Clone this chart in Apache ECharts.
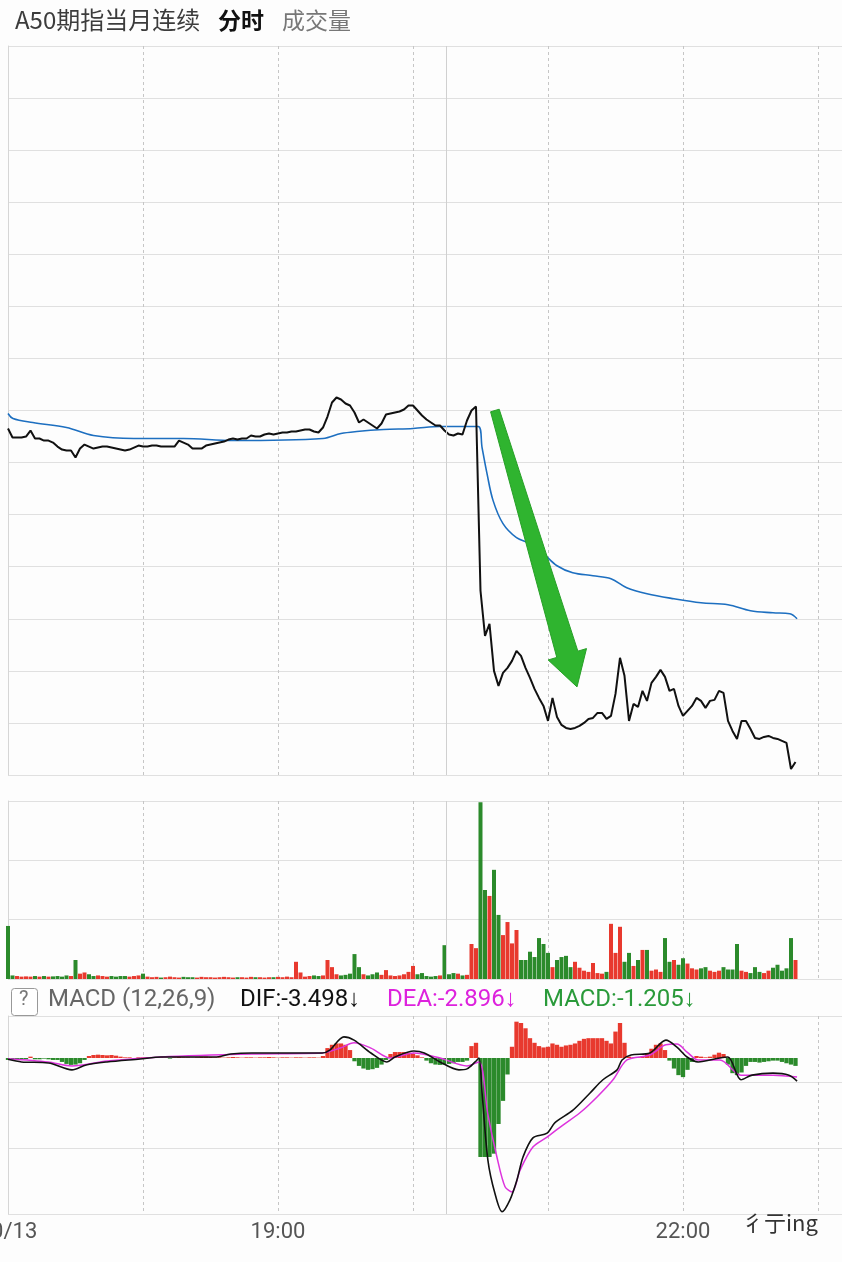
<!DOCTYPE html>
<html><head><meta charset="utf-8">
<script src="https://cdn.jsdelivr.net/npm/echarts@6/dist/echarts.min.js"></script>
<style>html,body{margin:0;padding:0;background:#fff}#c{width:842px;height:1262px}</style>
</head><body><div id="c"></div><script>
// ---- data (minutes after 17:00, 10/13) ----
const STEP = 2;              // minutes between samples
const prevClose = 12090;
const sessionMark = 195;     // solid vertical marker (20:15)
const timeLabels = {0: '10/13', 120: '19:00', 300: '22:00'};

const price = [
12081,12076.5,12076.5,12076.5,12077,12080,12076,12076,12075,12075,
12074,12072,12070.5,12070,12070,12066.5,12071,12073,12072,12071,
12071.5,12072,12072,12071.5,12071,12070.5,12070,12070.5,12071.5,12072.5,
12072,12072,12072.5,12072.5,12072,12072,12072,12072,12075,12074,
12073,12071,12071,12071,12072.5,12073,12073.5,12074,12074.5,12075.5,
12076,12075.5,12076,12076,12077.5,12077,12077,12078,12078.5,12078,
12078.5,12079,12079,12079.5,12079.5,12080,12080.5,12080.5,12079.5,12079,
12081.5,12087,12094,12096.5,12095.5,12093.5,12092.5,12089,12084,12085.5,
12084,12082.5,12081,12083.5,12088,12088.5,12089,12089.5,12090.5,12092.5,
12092.5,12090,12087.5,12085.5,12084,12082.5,12082.5,12080,12078,12077.5,
12078.5,12078,12085,12090,12092,12000,11977.5,11983.5,11960,11952.5,
11959,11961.5,11965,11970,11967.5,11961.5,11956.5,11951,11946.5,11942.5,
11935,11946.5,11937,11933,11931.5,11931,11931.5,11932.5,11934,11936,
11936.5,11939,11939,11936,11937.5,11948.5,11966.5,11957.5,11935,11943.5,
11942,11950,11945,11954,11957,11960.5,11957,11950,11951,11942.5,
11937.5,11940,11942.5,11946.5,11945,11941.5,11945,11945.5,11950,11949,
11935,11930,11926,11935,11935,11931,11926.5,11926,11927,11927.5,
11926.5,11926,11925,11924,11911,11914.5];

const avgLine = [
[0,12088.5],[2.2,12086],[11,12084],[26,12081.5],[38,12077.5],[56,12076],[78,12076],
[100,12075],[140,12076],[148,12078.5],[155,12079.5],[167,12080.5],[180,12081],[192,12082],
[209,12082],[210.7,12071.5],[212.9,12058.5],[215.6,12045],[220,12033.5],[226,12026.5],
[232,12023.5],[238,12018.5],[244,12012.5],[251,12009],[260,12007.5],[268,12006],
[275,12001.5],[284,11998.5],[296,11996],[308,11994],[320,11993],[330,11990],[340,11989],
[347.5,11988.5],[350.7,11986]];

const volume = [
447,30,25,20,22,20,25,20,25,20,
22,25,20,30,25,160,45,55,40,25,
30,25,20,25,20,25,25,20,25,30,
45,20,15,18,12,15,20,15,12,18,
15,15,12,18,15,15,12,15,18,15,
12,15,15,12,18,15,15,12,15,15,
18,15,20,15,145,55,20,25,30,25,
30,160,100,40,30,35,45,210,100,40,
30,40,55,35,75,30,25,30,40,60,
110,40,50,25,20,25,30,285,40,50,
45,30,35,295,260,1490,750,700,920,540,
370,480,300,413,160,160,230,185,345,295,
220,100,160,185,195,100,145,95,70,60,
135,50,45,60,465,220,440,145,220,110,
160,245,245,70,80,60,345,145,160,120,
175,130,90,80,90,100,70,60,70,100,
80,80,295,70,60,50,100,60,50,70,
95,120,70,90,345,160];

const macdHist = [
-0.3,-0.3,-0.2,-0.2,-0.2,0.2,-0.2,-0.2,-0.1,-0.2,
-0.3,-0.3,-0.6,-0.9,-1.05,-1.0,-0.8,-0.3,0.3,0.45,
0.5,0.45,0.4,0.45,0.35,0.2,0.1,0.1,-0.1,0.1,
0.1,0.15,0.1,0.15,0.1,0.05,-0.1,0.1,0.15,0.1,
0.1,0.05,0.1,0.2,0.2,0.15,0.1,0.1,0.05,0.1,
0.15,0.1,0.05,0.1,0.1,0.05,0.1,0.1,0.15,0.1,
0.05,0.1,0.1,0.05,0.1,0.1,0.05,0.1,0.1,0.05,
0.3,1.5,2.0,2.2,2.2,2.0,1.2,-0.5,-1.2,-1.6,
-1.8,-1.7,-1.5,-1.0,-0.3,0.6,0.9,0.9,0.9,0.8,
0.6,0.4,0.1,-0.4,-0.8,-1.0,-1.05,-1.0,-0.9,-0.8,
-0.6,-0.6,-0.4,1.8,2.3,-15,-15,-15,-14.5,-10,
-6.5,-2.5,1.7,5.5,5.3,4.5,3.0,2.3,1.8,1.6,
1.7,2.2,2.0,1.7,1.9,2.0,2.2,2.6,2.9,3.0,
3.0,3.0,3.0,2.6,2.2,4.0,5.3,2.3,0.2,0.1,
0.1,0.2,0.6,1.4,2.0,2.2,1.2,-0.4,-1.6,-2.6,
-2.9,-1.8,-0.6,0.3,0.2,0.1,0.2,0.5,0.8,0.6,
-1.0,-2.3,-2.6,-2.2,-1.2,-0.6,-0.6,-0.7,-0.6,-0.5,
-0.4,-0.4,-0.6,-0.8,-1.0,-1.2];

const difLine = [
[0,-0.2],[6,-0.6],[18,-0.75],[28.4,-1.8],[34.7,-1.05],[44,-0.6],[58.7,-0.15],[68,0.15],
[92,0.15],[99,0.6],[108.4,0.75],[139.6,0.75],[143,1.2],[149.3,3.2],[153.8,2.7],[161.3,0.75],
[168.4,-0.6],[172,0.15],[180.4,1.05],[185,0.75],[192,-0.6],[200.4,-1.8],[204,-1.65],
[207.6,-0.6],[209.3,0],[210.7,-5.3],[213.3,-15.5],[216.4,-20.5],[219.6,-23.3],[223.1,-21.5],
[226.2,-18.5],[228.9,-15],[233.3,-12.1],[239.6,-11.4],[243.1,-9.8],[251.1,-7.9],[258.7,-5.3],
[264.4,-3.3],[270.7,-1.8],[272.9,-0.3],[276.9,0.45],[285.3,0.75],[292.4,2.7],[297.3,1.65],
[301.8,0.15],[306.7,-0.6],[316.4,0],[320,0.15],[325.8,-3.3],[330.7,-2.6],[340,-2.3],
[347.1,-2.6],[350.7,-3.5]];

const deaLine = [
[0,-0.1],[17.8,-0.6],[28.4,-1.2],[44,-0.45],[68,0.15],[108.4,0.6],[139.6,0.75],[147.6,1.5],
[153.8,2.3],[161.3,1.5],[169.8,0],[180.4,0.75],[192,0],[204,-1.2],[209.3,-0.6],[213.3,-8.6],
[217.3,-15],[220.9,-19.5],[224,-20.3],[227.6,-17],[233.3,-13.5],[239.6,-12],[245.3,-10.5],
[254.2,-8.3],[261.8,-5.9],[268.9,-3.3],[275.1,-0.3],[285.3,0.45],[292.4,2],[297.3,2.1],
[301.8,0.9],[306.7,-0.3],[316.4,-0.3],[325.8,-2.6],[340,-2.6],[350.7,-2.9]];

const macdHeader = {dif: '-3.498', dea: '-2.896', macd: '-1.205'};
// annotation arrow (time, price)
const arrowFrom = [216.4, 12090];
const arrowTo = [252.9, 11952];

// ---- chart ----
const UP = '#e8392e', DOWN = '#2b8a2b';
const chart = echarts.init(document.getElementById('c'), null, {renderer: 'canvas'});
const XMAX = 370.67;
const gridLine = {lineStyle: {color: '#e0e0e0', width: 1}};
function xAx(i, labels) {
  return {
    type: 'value', gridIndex: i, min: 0, max: XMAX, interval: 60,
    axisLine: {show: false}, axisTick: {show: false},
    splitLine: {show: true, lineStyle: {color: '#c6c6c6', type: [3, 3], width: 1}},
    axisLabel: labels ? {
      show: true, color: '#555', fontSize: 22, fontFamily: 'Roboto', margin: 7,
      showMaxLabel: false, hideOverlap: false,
      formatter: v => timeLabels[v] !== undefined ? timeLabels[v] : ''
    } : {show: false}
  };
}
function yAx(i, min, max, interval) {
  return {
    type: 'value', gridIndex: i, min, max, interval, scale: false,
    axisLabel: {show: false}, axisTick: {show: false},
    axisLine: {show: true, lineStyle: {color: '#d6d6d6'}},
    splitLine: Object.assign({show: true}, gridLine)
  };
}
const sessionLine = {
  symbol: 'none', silent: true, animation: false,
  lineStyle: {color: '#d0d0d0', type: 'solid', width: 1},
  label: {show: false}, data: [{xAxis: sessionMark}]
};

const volData = volume.map((v, i) => ({
  value: [i * STEP, v],
  itemStyle: {color: price[i] >= (i ? price[i - 1] : prevClose) ? UP : DOWN}
}));
const histData = macdHist.map((v, i) => ({
  value: [i * STEP, v], itemStyle: {color: v >= 0 ? UP : DOWN}
}));

const txt = (id, x, y, text, fill, font) => ({
  type: 'text', id, left: x, top: y, z: 100, silent: true,
  style: {text, fill, font}
});
const gridBase = {left: 8, right: 0, containLabel: false, outerBoundsMode: 'none'};

chart.setOption({
  animation: false,
  backgroundColor: '#fdfdfd',
  grid: [
    Object.assign({top: 46, height: 729}, gridBase),
    Object.assign({top: 801, height: 178}, gridBase),
    Object.assign({top: 1016, height: 198}, gridBase)
  ],
  xAxis: [xAx(0, false), xAx(1, false), xAx(2, true)],
  yAxis: [
    yAx(0, 11908, 12272, 26),
    yAx(1, 0, 1500, 500),
    {type: 'value', gridIndex: 2, min: -23.64, max: 6.36, show: false, splitLine: {show: false}},
    Object.assign(yAx(2, 0, 3, 1), {position: 'left'})
  ],
  series: [
    {type: 'line', name: 'avg', xAxisIndex: 0, yAxisIndex: 0, data: avgLine, showSymbol: false,
     smooth: 0.35, lineStyle: {color: '#1d6fc0', width: 1.6}, z: 3},
    {type: 'line', name: 'price', xAxisIndex: 0, yAxisIndex: 0,
     data: price.map((v, i) => [i * STEP, v]), showSymbol: false,
     lineStyle: {color: '#111', width: 2}, z: 4, markLine: sessionLine},
    {type: 'bar', name: 'vol', xAxisIndex: 1, yAxisIndex: 1, data: volData, barWidth: 4,
     markLine: sessionLine},
    {type: 'bar', name: 'hist', xAxisIndex: 2, yAxisIndex: 2, data: histData, barWidth: 4.3,
     markLine: sessionLine},
    {type: 'line', name: 'DEA', xAxisIndex: 2, yAxisIndex: 2, data: deaLine, showSymbol: false,
     smooth: 0.3, lineStyle: {color: '#dd33dd', width: 1.5}, z: 4},
    {type: 'line', name: 'DIF', xAxisIndex: 2, yAxisIndex: 2, data: difLine, showSymbol: false,
     smooth: 0.3, lineStyle: {color: '#111', width: 1.6}, z: 5}
  ],
  graphic: [
    txt('t1', 15, 8, 'A50期指当月连续', '#3c3c3c', '24px "Noto Sans CJK SC"'),
    txt('t2', 218, 9, '分时', '#111', 'bold 23px "Noto Sans CJK SC"'),
    txt('t3', 282, 9, '成交量', '#777', '23px "Noto Sans CJK SC"'),
    {type: 'rect', id: 'qbox', left: 11, top: 988, z: 100, silent: true,
     shape: {width: 26, height: 27, r: 3}, style: {fill: '#fff', stroke: '#999', lineWidth: 1}},
    txt('q', 19, 990, '?', '#777', '20px Roboto'),
    txt('m1', 48, 988, 'MACD (12,26,9)', '#666', '24px Roboto'),
    txt('m2', 240, 988, 'DIF:' + macdHeader.dif + '↓', '#111', '24px Roboto'),
    txt('m3', 387, 988, 'DEA:' + macdHeader.dea + '↓', '#dd22dd', '24px Roboto'),
    txt('m4', 543, 988, 'MACD:' + macdHeader.macd + '↓', '#2a9a3a', '24px Roboto'),
    txt('wm', 742, 1212, '彳亍ing', '#333', '22px "Noto Sans CJK SC"')
  ]
});

// arrow annotation anchored to data coordinates
const a = chart.convertToPixel({gridIndex: 0}, arrowFrom);
const b = chart.convertToPixel({gridIndex: 0}, arrowTo);
const dx = b[0] - a[0], dy = b[1] - a[1], L = Math.hypot(dx, dy);
const ux = dx / L, uy = dy / L, nx = -uy, ny = ux;
const hb = [b[0] - ux * 34, b[1] - uy * 34];
const P = (p, w) => [p[0] + nx * w, p[1] + ny * w];
chart.setOption({graphic: [{
  type: 'polygon', id: 'arrow', z: 50, silent: true,
  shape: {points: [P(a, 4.5), P(hb, 11), P(hb, 20), b, P(hb, -20), P(hb, -11), P(a, -4.5)]},
  style: {fill: '#2fb42f', stroke: '#27a027', lineWidth: 1}
}]});
</script></body></html>
